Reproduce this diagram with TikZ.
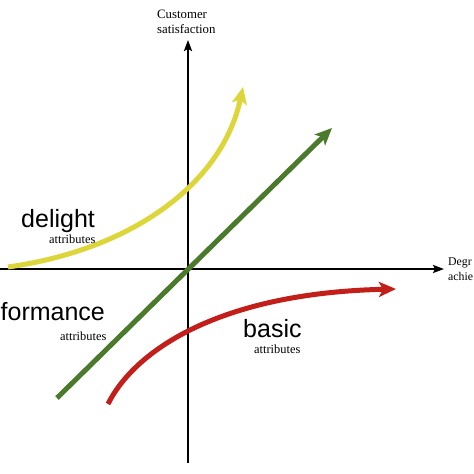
\documentclass[tikz,border=0pt]{standalone}
\usepackage{fontspec}
\setmainfont{Liberation Serif}
\newfontfamily\labelsans{Liberation Sans}
\usetikzlibrary{arrows.meta}
\definecolor{delightyellow}{RGB}{221,214,58}
\definecolor{perfgreen}{RGB}{76,122,44}
\definecolor{basicred}{RGB}{194,30,26}
\tikzset{
  axisline/.style={line width=2pt, black, -{Stealth[length=11pt,width=8pt,inset=2pt]}},
  curveline/.style={line width=5pt, -{Stealth[length=17pt,width=15pt,inset=4pt]}},
  biglabel/.style={font=\labelsans\fontsize{25}{25}\selectfont, inner sep=0pt, anchor=base west},
  smalllabel/.style={font=\fontsize{12.4}{12}\selectfont, inner sep=0pt, anchor=base west},
  axislabel/.style={font=\fontsize{12.8}{15}\selectfont, inner sep=0pt, anchor=base west},
  edgelabel/.style={font=\fontsize{11.8}{14}\selectfont, inner sep=0pt, anchor=base west},
}
\begin{document}
\begin{tikzpicture}[x=1pt,y=-1pt]
\useasboundingbox (0,0) rectangle (474,474);
\clip (0,0) rectangle (474,474);
\fill[white] (0,0) rectangle (474,474);
% axes
\coordinate (origin) at (188,269);
\coordinate (ybot) at (188,463);
\coordinate (ytop) at (188,40);
\coordinate (xleft) at (-2,269);
\coordinate (xright) at (444,269);
\draw[axisline] (ybot) -- (ytop);
\draw[axisline] (xleft) -- (xright);
% axis labels
\node[axislabel] (cust) at (157,18) {Customer};
\node[axislabel] (sat) at (157,33) {satisfaction};
\node[edgelabel] (deg) at (448,265) {Degr};
\node[edgelabel] (ach) at (448,280) {achie};
% curves
\coordinate (ystart) at (8,267);
\coordinate (yend) at (243,87);
\coordinate (gstart) at (57,398);
\coordinate (gend) at (332,128);
\coordinate (rstart) at (108,404);
\coordinate (rend) at (396,289);
\draw[curveline, delightyellow] (ystart) .. controls (130,250) and (222,185) .. (yend);
\draw[curveline, perfgreen] (gstart) -- (gend);
\draw[curveline, basicred] (rstart) .. controls (135,350) and (220,293) .. (rend);
% labels
\node[biglabel] (del) at (21,227) {delight};
\node[smalllabel] (dela) at (49,243) {attributes};
\node[biglabel] (perf) at (0.5,320) {formance};
\node[smalllabel] (perfa) at (60,340) {attributes};
\node[biglabel] (bas) at (243,337) {basic};
\node[smalllabel] (basa) at (254,353) {attributes};
\end{tikzpicture}
\end{document}
